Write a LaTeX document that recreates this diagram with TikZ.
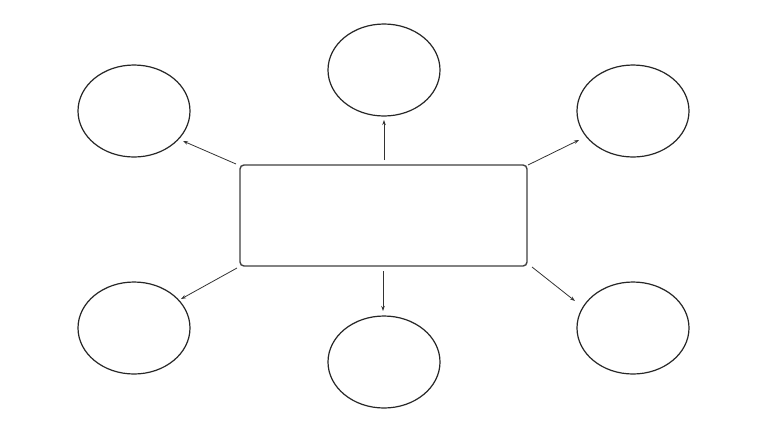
\documentclass[tikz,border=0pt]{standalone}
\usetikzlibrary{arrows.meta,shapes.geometric}
\begin{document}
\begin{tikzpicture}[x=1pt,y=-1pt,
  bubble/.style={draw=black!85,line width=1.2pt,ellipse,minimum width=112pt,minimum height=92pt,inner sep=0pt},
  centerbox/.style={draw=black!75,line width=1.4pt,rounded corners=4pt,minimum width=287pt,minimum height=101pt,inner sep=0pt},
  arr/.style={draw=black!80,line width=0.8pt,-{Stealth[length=5pt,width=3.5pt]}}]
\useasboundingbox[fill=white] (0,0) rectangle (768,432);
\node[centerbox] (c) at (383.5,215.5) {};
\node[bubble] (t) at (384,70) {};
\node[bubble] (tl) at (134,111) {};
\node[bubble] (tr) at (633,111) {};
\node[bubble] (bl) at (134,328) {};
\node[bubble] (b) at (384,362) {};
\node[bubble] (br) at (633,328) {};
\coordinate (at) at (384,120);
\coordinate (atl) at (183,141);
\coordinate (atr) at (579,140);
\coordinate (abl) at (181,299);
\coordinate (ab) at (383,311);
\coordinate (abr) at (575,301);
\coordinate (st) at (384,160);
\coordinate (stl) at (236,164);
\coordinate (str) at (528,165);
\coordinate (sbl) at (237,268);
\coordinate (sb) at (383,271);
\coordinate (sbr) at (532,267);
\draw[arr] (st) -- (at);
\draw[arr] (stl) -- (atl);
\draw[arr] (str) -- (atr);
\draw[arr] (sbl) -- (abl);
\draw[arr] (sb) -- (ab);
\draw[arr] (sbr) -- (abr);
\end{tikzpicture}
\end{document}
